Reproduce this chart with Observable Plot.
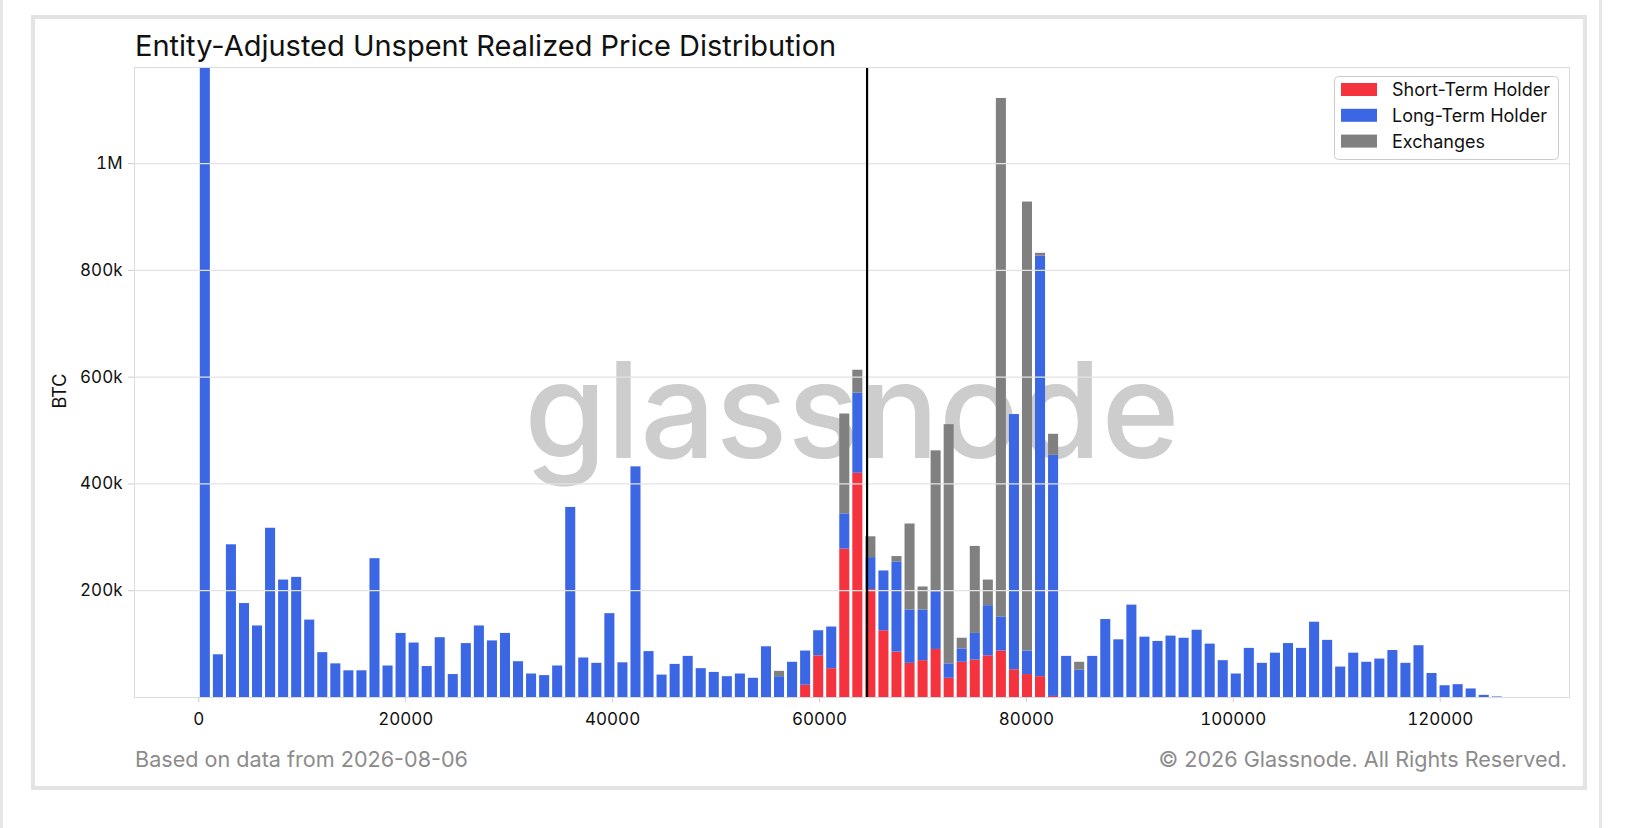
<!DOCTYPE html>
<html>
<head>
<meta charset="utf-8">
<script src="https://cdn.jsdelivr.net/npm/d3@7"></script>
<script src="https://cdn.jsdelivr.net/npm/@observablehq/plot@0.6"></script>
<style>
html, body { margin: 0; padding: 0; background: #fff; overflow: hidden; }
body { width: 1631px; height: 828px; position: relative; font-family: Inter, "Noto Sans", sans-serif; }
#chart { position: absolute; left: 0; top: 0; }
.border { position: absolute; left: 31px; top: 15px; width: 1548px; height: 767px; border: 4px solid #e3e3e3; }
.edge { position: absolute; top: 0; width: 3px; height: 828px; background: #e6e6e6; }
</style>
</head>
<body>
<div class="edge" style="left:0"></div>
<div class="edge" style="left:1599px"></div>
<div class="border"></div>
<div id="chart"></div>
<script>
const title = "Entity-Adjusted Unspent Realized Price Distribution";
const footerLeft = "Based on data from 2026-08-06";
const footerRight = "© 2026 Glassnode. All Rights Reserved.";
const yLabel = "BTC";
const watermark = "glassnode";

const seriesNames = ["Short-Term Holder", "Long-Term Holder", "Exchanges"];
const seriesColors = ["#f5333f", "#3b66e4", "#808080"];

// realized-price bin width (USD) and current price marker
const binWidth = 1261.5;
const currentPrice = 64600;

// values in thousands of BTC, one per price bin (bin 0 starts at 0 USD)
const sth = [
  0,0,0,0,0,0,0,0,0,0,
  0,0,0,0,0,0,0,0,0,0,
  0,0,0,0,0,0,0,0,0,0,
  0,0,0,0,0,0,0,0,0,0,
  0,0,0,0,0,0,23,78,54,278,
  420,202,125,85,64,69,90,36,66,70,
  78,87,52,43,39,2,0,0,0,0,
  0,0,0,0,0,0,0,0,0,0,
  0,0,0,0,0,0,0,0,0,0,
  0,0,0,0,0,0,0,0,0,0
];
const lth = [
  1180,80,286,176,134,317,220,225,145,84,
  63,50,50,260,59,120,102,58,112,43,
  101,134,106,120,67,44,41,59,356,74,
  64,157,65,432,86,42,62,77,54,47,
  39,44,36,95,39,66,64,47,78,66,
  150,60,112,169,100,95,108,27,25,50,
  94,64,478,44,788,452,77,51,77,146,
  108,173,113,105,115,111,126,100,69,44,
  92,64,83,101,92,141,107,57,83,66,
  72,88,64,97,45,22,24,16,4,1
];
const exch = [
  0,0,0,0,0,0,0,0,0,0,
  0,0,0,0,0,0,0,0,0,0,
  0,0,0,0,0,0,0,0,0,0,
  0,0,0,0,0,0,0,0,0,0,
  0,0,0,0,10,0,0,0,0,187,
  43,39,0,10,161,43,264,448,20,163,
  48,971,0,841,5,39,0,15,0,0,
  0,0,0,0,0,0,0,0,0,0,
  0,0,0,0,0,0,0,0,0,0,
  0,0,0,0,0,0,0,0,0,0
];

const xTicks = [0, 20000, 40000, 60000, 80000, 100000, 120000];
const yTicks = [200000, 400000, 600000, 800000, 1000000];

const seriesValues = [sth, lth, exch];
const rows = [];
seriesValues.forEach((vals, s) => {
  vals.forEach((v, i) => {
    rows.push({series: seriesNames[s], x1: i * binWidth, x2: (i + 1) * binWidth, value: v * 1000});
  });
});

const fmtY = d => d >= 1e6 ? (d / 1e6) + "M" : (d / 1e3) + "k";

const svg = Plot.plot({
  width: 1631,
  height: 828,
  marginLeft: 134,
  marginRight: 62,
  marginTop: 67,
  marginBottom: 131,
  style: {fontFamily: "Inter, 'Noto Sans', sans-serif", fontSize: "17px", color: "#111", background: "transparent", overflow: "visible"},
  x: {domain: [-6216, 132500]},
  y: {domain: [0, 1180000]},
  color: {domain: seriesNames, range: seriesColors},
  marks: [
    Plot.text([watermark], {text: d => d, frameAnchor: "middle", dy: 33, fontSize: 133, fontWeight: 500, fill: "#cdcdcd"}),
    Plot.rectY(rows, Plot.stackY({x1: "x1", x2: "x2", y: "value", fill: "series", order: seriesNames, insetLeft: 1.5, insetRight: 1.5})),
    Plot.gridY(yTicks, {stroke: "#e3e3e3", strokeOpacity: 1, strokeWidth: 1.2}),
    Plot.ruleX([currentPrice], {stroke: "#000", strokeWidth: 2.2}),
    Plot.frame({stroke: "#dcdcdc"}),
    Plot.axisX(xTicks, {tickSize: 5, tickPadding: 10, stroke: "#cccccc", fill: "#111", fontSize: 17, tickFormat: d => String(d), label: null}),
    Plot.axisY(yTicks, {tickSize: 6, tickPadding: 6, stroke: "#cccccc", fill: "#111", fontSize: 17, tickFormat: fmtY, label: null})
  ]
});
document.getElementById("chart").append(svg);

const s = d3.select(svg);
s.append("text").attr("x", 135).attr("y", 56).attr("text-anchor", "start").attr("font-size", 29).attr("fill", "#111").text(title);
s.append("text").attr("transform", "translate(66,391) rotate(-90)").attr("text-anchor", "middle").attr("font-size", 18).attr("fill", "#111").text(yLabel);
s.append("text").attr("x", 135).attr("y", 767).attr("text-anchor", "start").attr("font-size", 21.6).attr("fill", "#8c8c8c").text(footerLeft);
s.append("text").attr("x", 1567).attr("y", 767).attr("text-anchor", "end").attr("font-size", 21.6).attr("fill", "#8c8c8c").text(footerRight);

const lg = s.append("g");
lg.append("rect").attr("x", 1334.5).attr("y", 76.5).attr("width", 224).attr("height", 83).attr("rx", 4).attr("fill", "#fff").attr("stroke", "#cccccc");
seriesNames.forEach((name, i) => {
  lg.append("rect").attr("x", 1341).attr("y", 83 + i * 25.8).attr("width", 36).attr("height", 13).attr("fill", seriesColors[i]);
  lg.append("text").attr("x", 1392).attr("y", 96 + i * 25.8).attr("text-anchor", "start").attr("font-size", 18).attr("fill", "#111").text(name);
});
</script>
</body>
</html>
